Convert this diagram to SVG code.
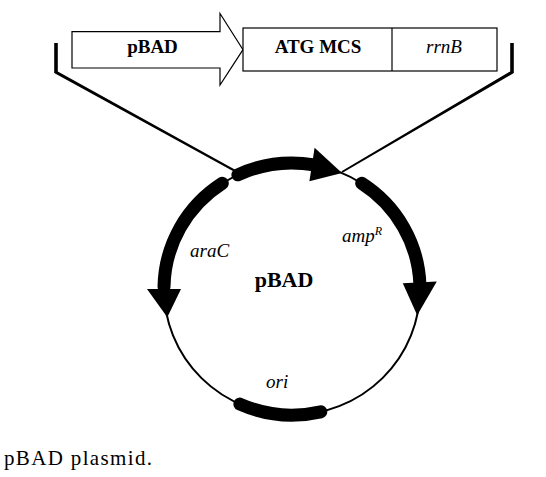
<svg xmlns="http://www.w3.org/2000/svg" width="546" height="477" viewBox="0 0 546 477">
<style>
.thin{fill:none;stroke:#000;stroke-width:2}
.thick{fill:none;stroke:#000;stroke-width:13;stroke-linecap:round}
.head{fill:#000;stroke:none}
.box{fill:#fff;stroke:#000;stroke-width:1.2}
.brk{fill:#000;stroke:none}
.b{font-family:"Liberation Serif",serif;font-weight:bold;fill:#000}
.i{font-family:"Liberation Serif",serif;font-style:italic;fill:#000}
.r{font-family:"Liberation Serif",serif;fill:#000}
</style>
<rect width="546" height="477" fill="#fff"/>
<g id="construct">
  <polygon class="box" points="72,31.7 220,31.7 220,13.5 243,49.7 220,85 220,68 72,68"/>
  <rect class="box" x="243" y="28" width="254" height="43"/>
  <line x1="392" y1="28" x2="392" y2="71" stroke="#000" stroke-width="1.2"/>
  <text class="b" x="152.5" y="53" font-size="19" text-anchor="middle">pBAD</text>
  <text class="b" x="318" y="53" font-size="19" text-anchor="middle">ATG MCS</text>
  <text class="i" x="444" y="53" font-size="19" text-anchor="middle">rrnB</text>
</g>
<g id="connectors">
  <polygon class="brk" points="54.2,43 57.8,43 57.8,71.4 237.48,171.12 236.52,172.88 54.2,73"/>
  <polygon class="brk" points="510.2,43 513.8,43 513.8,73.1 342.51,172.86 341.49,171.14 510.2,71.4"/>
</g>
<g id="plasmid">
  <ellipse class="thin" cx="292" cy="289" rx="128" ry="126"/>
  <text class="b" x="284" y="287" font-size="22" text-anchor="middle">pBAD</text>
</g>
<g id="promoter">
  <path class="thick" d="M237.9,174.8 A128,126 0 0 1 314.2,164.9"/>
  <polygon class="head" points="314.6,147.7 342,173 309.4,181.3"/>
</g>
<g id="araC">
  <path class="thick" d="M222.3,183.3 A128,126 0 0 0 164,286.8"/>
  <polygon class="head" points="147,289 181,289 167.3,317.3"/>
  <text class="i" x="190" y="257" font-size="19">araC</text>
</g>
<g id="ampR">
  <path class="thick" d="M361.7,183.3 A128,126 0 0 1 419.9,284.6"/>
  <polygon class="head" points="402.8,283.3 436.8,281.5 417.2,315.2"/>
  <text class="i" x="342" y="242" font-size="19">amp<tspan font-size="12" dy="-7">R</tspan></text>
</g>
<g id="ori">
  <path class="thick" d="M239.9,404.1 A128,126 0 0 0 320.8,411.8"/>
  <text class="i" x="266" y="388" font-size="19">ori</text>
</g>
<text id="caption" class="r" x="4" y="465" font-size="21" textLength="148" lengthAdjust="spacing">pBAD plasmid.</text>
</svg>
